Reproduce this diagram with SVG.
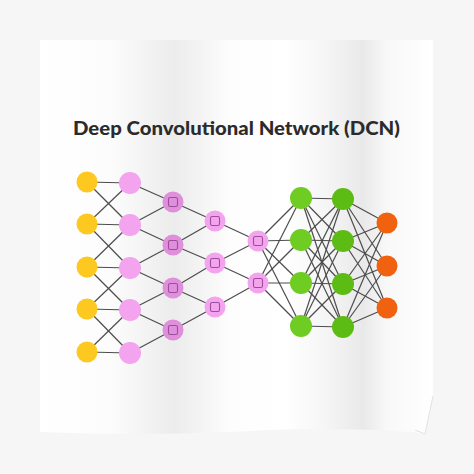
<svg xmlns="http://www.w3.org/2000/svg" width="474" height="474" viewBox="0 0 474 474">
<defs>
<linearGradient id="sheet" x1="40" y1="0" x2="434" y2="0" gradientUnits="userSpaceOnUse">
<stop offset="0" stop-color="#ffffff"/>
<stop offset="0.18" stop-color="#fcfcfc"/>
<stop offset="0.34" stop-color="#ececec"/>
<stop offset="0.40" stop-color="#f3f3f3"/>
<stop offset="0.48" stop-color="#fdfdfd"/>
<stop offset="0.62" stop-color="#ffffff"/>
<stop offset="0.72" stop-color="#f6f6f6"/>
<stop offset="0.82" stop-color="#e9e9e9"/>
<stop offset="0.88" stop-color="#f8f8f8"/>
<stop offset="1" stop-color="#ffffff"/>
</linearGradient>
<style>
.ln{stroke:#4d4d4d;stroke-width:1.2;fill:none}
.yel{fill:#fdc921}
.pk{fill:#f4a3ef}
.pk3{fill:#df8fdc}
.g1{fill:#6fcc22}
.g2{fill:#5cbc14}
.or{fill:#f0620f}
.sq{fill:none;stroke:#9a4f98;stroke-width:1.1}
.title{font-family:"Lato","Liberation Sans",sans-serif;font-weight:900;font-size:18px;fill:#2b2b2b}
</style>
</defs>
<rect x="0" y="0" width="474" height="474" fill="#f6f6f6"/>
<path d="M40,40 L433,40 L433,396 L425,434 Q420,433 410,432 Q340,427 270,430 Q150,437 40,432 Z" fill="url(#sheet)"/>
<path d="M415,430 L425,434 L433,396" fill="none" stroke="#e2e2e2" stroke-width="1"/>
<text class="title" x="73" y="135" textLength="327" lengthAdjust="spacingAndGlyphs">Deep Convolutional Network (DCN)</text>
<g id="connectors" class="ln">
<!-- col1 -> col2 -->
<line x1="87" y1="182" x2="130" y2="183"/><line x1="87" y1="182" x2="130" y2="225"/>
<line x1="87" y1="224" x2="130" y2="183"/><line x1="87" y1="224" x2="130" y2="225"/><line x1="87" y1="224" x2="130" y2="268"/>
<line x1="87" y1="267" x2="130" y2="225"/><line x1="87" y1="267" x2="130" y2="268"/><line x1="87" y1="267" x2="130" y2="310"/>
<line x1="87" y1="309" x2="130" y2="268"/><line x1="87" y1="309" x2="130" y2="310"/><line x1="87" y1="309" x2="130" y2="353"/>
<line x1="87" y1="352" x2="130" y2="310"/><line x1="87" y1="352" x2="130" y2="353"/>
<!-- col2 -> col3 -->
<line x1="130" y1="183" x2="173" y2="202"/>
<line x1="130" y1="225" x2="173" y2="202"/><line x1="130" y1="225" x2="173" y2="245"/>
<line x1="130" y1="268" x2="173" y2="245"/><line x1="130" y1="268" x2="173" y2="288"/>
<line x1="130" y1="310" x2="173" y2="288"/><line x1="130" y1="310" x2="173" y2="330"/>
<line x1="130" y1="353" x2="173" y2="330"/>
<!-- col3 -> col4 -->
<line x1="173" y1="202" x2="215" y2="221"/>
<line x1="173" y1="245" x2="215" y2="221"/><line x1="173" y1="245" x2="215" y2="263"/>
<line x1="173" y1="288" x2="215" y2="263"/><line x1="173" y1="288" x2="215" y2="307"/>
<line x1="173" y1="330" x2="215" y2="307"/>
<!-- col4 -> col5 -->
<line x1="215" y1="221" x2="258" y2="241"/>
<line x1="215" y1="263" x2="258" y2="241"/><line x1="215" y1="263" x2="258" y2="283"/>
<line x1="215" y1="307" x2="258" y2="283"/>
<!-- col5 -> col6 -->
<line x1="258" y1="241" x2="301" y2="198"/><line x1="258" y1="241" x2="301" y2="240"/><line x1="258" y1="241" x2="301" y2="283"/><line x1="258" y1="241" x2="301" y2="326"/>
<line x1="258" y1="283" x2="301" y2="198"/><line x1="258" y1="283" x2="301" y2="240"/><line x1="258" y1="283" x2="301" y2="283"/><line x1="258" y1="283" x2="301" y2="326"/>
<!-- col6 -> col7 -->
<line x1="301" y1="198" x2="343" y2="199"/><line x1="301" y1="198" x2="343" y2="241"/><line x1="301" y1="198" x2="343" y2="284"/><line x1="301" y1="198" x2="343" y2="327"/>
<line x1="301" y1="240" x2="343" y2="199"/><line x1="301" y1="240" x2="343" y2="241"/><line x1="301" y1="240" x2="343" y2="284"/><line x1="301" y1="240" x2="343" y2="327"/>
<line x1="301" y1="283" x2="343" y2="199"/><line x1="301" y1="283" x2="343" y2="241"/><line x1="301" y1="283" x2="343" y2="284"/><line x1="301" y1="283" x2="343" y2="327"/>
<line x1="301" y1="326" x2="343" y2="199"/><line x1="301" y1="326" x2="343" y2="241"/><line x1="301" y1="326" x2="343" y2="284"/><line x1="301" y1="326" x2="343" y2="327"/>
<!-- col7 -> col8 -->
<line x1="343" y1="199" x2="387" y2="223"/><line x1="343" y1="199" x2="387" y2="266"/><line x1="343" y1="199" x2="387" y2="308"/>
<line x1="343" y1="241" x2="387" y2="223"/><line x1="343" y1="241" x2="387" y2="266"/><line x1="343" y1="241" x2="387" y2="308"/>
<line x1="343" y1="284" x2="387" y2="223"/><line x1="343" y1="284" x2="387" y2="266"/><line x1="343" y1="284" x2="387" y2="308"/>
<line x1="343" y1="327" x2="387" y2="223"/><line x1="343" y1="327" x2="387" y2="266"/><line x1="343" y1="327" x2="387" y2="308"/>
</g>
<g id="input-layer">
<circle id="n1-1" class="yel" cx="87" cy="182" r="10.5"/>
<circle id="n1-2" class="yel" cx="87" cy="224" r="10.5"/>
<circle id="n1-3" class="yel" cx="87" cy="267" r="10.5"/>
<circle id="n1-4" class="yel" cx="87" cy="309" r="10.5"/>
<circle id="n1-5" class="yel" cx="87" cy="352" r="10.5"/>
</g>
<g id="layer2">
<circle id="n2-1" class="pk" cx="130" cy="183" r="11"/>
<circle id="n2-2" class="pk" cx="130" cy="225" r="11"/>
<circle id="n2-3" class="pk" cx="130" cy="268" r="11"/>
<circle id="n2-4" class="pk" cx="130" cy="310" r="11"/>
<circle id="n2-5" class="pk" cx="130" cy="353" r="11"/>
</g>
<g id="layer3">
<g id="n3-1"><circle class="pk3" cx="173" cy="202" r="10.5"/><rect class="sq" x="168.5" y="197.5" width="9" height="9" rx="1.8"/></g>
<g id="n3-2"><circle class="pk3" cx="173" cy="245" r="10.5"/><rect class="sq" x="168.5" y="240.5" width="9" height="9" rx="1.8"/></g>
<g id="n3-3"><circle class="pk3" cx="173" cy="288" r="10.5"/><rect class="sq" x="168.5" y="283.5" width="9" height="9" rx="1.8"/></g>
<g id="n3-4"><circle class="pk3" cx="173" cy="330" r="10.5"/><rect class="sq" x="168.5" y="325.5" width="9" height="9" rx="1.8"/></g>
</g>
<g id="layer4">
<g id="n4-1"><circle class="pk" cx="215" cy="221" r="10.5"/><rect class="sq" x="210.5" y="216.5" width="9" height="9" rx="1.8"/></g>
<g id="n4-2"><circle class="pk" cx="215" cy="263" r="10.5"/><rect class="sq" x="210.5" y="258.5" width="9" height="9" rx="1.8"/></g>
<g id="n4-3"><circle class="pk" cx="215" cy="307" r="10.5"/><rect class="sq" x="210.5" y="302.5" width="9" height="9" rx="1.8"/></g>
</g>
<g id="layer5">
<g id="n5-1"><circle class="pk" cx="258" cy="241" r="10.5"/><rect class="sq" x="253.5" y="236.5" width="9" height="9" rx="1.8"/></g>
<g id="n5-2"><circle class="pk" cx="258" cy="283" r="10.5"/><rect class="sq" x="253.5" y="278.5" width="9" height="9" rx="1.8"/></g>
</g>
<g id="layer6">
<circle id="n6-1" class="g1" cx="301" cy="198" r="11"/>
<circle id="n6-2" class="g1" cx="301" cy="240" r="11"/>
<circle id="n6-3" class="g1" cx="301" cy="283" r="11"/>
<circle id="n6-4" class="g1" cx="301" cy="326" r="11"/>
</g>
<g id="layer7">
<circle id="n7-1" class="g2" cx="343" cy="199" r="11"/>
<circle id="n7-2" class="g2" cx="343" cy="241" r="11"/>
<circle id="n7-3" class="g2" cx="343" cy="284" r="11"/>
<circle id="n7-4" class="g2" cx="343" cy="327" r="11"/>
</g>
<g id="output-layer">
<circle id="n8-1" class="or" cx="387" cy="223" r="10.5"/>
<circle id="n8-2" class="or" cx="387" cy="266" r="10.5"/>
<circle id="n8-3" class="or" cx="387" cy="308" r="10.5"/>
</g>
</svg>
